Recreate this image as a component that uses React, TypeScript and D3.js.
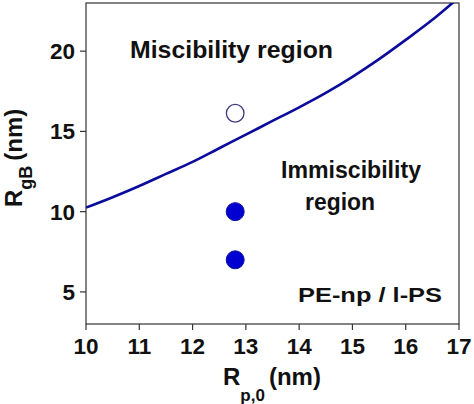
import React from "react";
import * as d3 from "d3";

// Phase boundary R_gB versus R_p,0
const boundaryRp = [10, 10.5, 11, 11.5, 12, 12.5, 13, 13.5, 14, 14.5, 15, 15.5, 16, 16.5, 17];
const boundaryRg = [10.25, 10.9, 11.6, 12.35, 13.1, 13.95, 14.8, 15.65, 16.5, 17.4, 18.4, 19.5, 20.7, 21.95, 23.35];

// Measured systems
const miscibleRp = [12.8];
const miscibleRg = [16.13];
const immiscibleRp = [12.8, 12.8];
const immiscibleRg = [10.0, 7.0];

const xTicks = [10, 11, 12, 13, 14, 15, 16, 17];
const yTicks = [5, 10, 15, 20];

const W = 474;
const H = 404;
const left = 86;
const right = 459;
const top = 3;
const bottom = 324;

const FONT = "'Liberation Sans', Arial, Helvetica, sans-serif";

export default function App() {
  const x = d3.scaleLinear().domain([10, 17]).range([left, right]);
  const y = d3.scaleLinear().domain([3, 23]).range([bottom, top]);

  const line = d3
    .line<number>()
    .x((_, i) => x(boundaryRp[i]))
    .y((d) => y(d))
    .curve(d3.curveMonotoneX);

  const boundaryPath = line(boundaryRg) || "";

  return (
    <svg
      width={W}
      height={H}
      style={{ position: "absolute", left: 0, top: 0, background: "#fff" }}
      fontFamily={FONT}
      fontWeight="bold"
    >
      <defs>
        <clipPath id="plot-area">
          <rect x={left} y={top} width={right - left} height={bottom - top} />
        </clipPath>
      </defs>
      <rect x={0} y={0} width={W} height={H} fill="#fff" />

      {/* frame */}
      <rect
        x={left}
        y={top}
        width={right - left}
        height={bottom - top}
        fill="none"
        stroke="#333"
        strokeWidth={1.2}
      />

      {/* x axis ticks and labels */}
      {xTicks.map((t) => (
        <g key={"x" + t}>
          <line x1={x(t)} x2={x(t)} y1={bottom} y2={bottom + 6} stroke="#333" strokeWidth={1.2} />
          <text x={x(t)} y={353.5} textAnchor="middle" fontSize={22.5} fill="#111">
            {t}
          </text>
        </g>
      ))}

      {/* y axis ticks and labels */}
      {yTicks.map((t) => (
        <g key={"y" + t}>
          <line x1={left - 6} x2={left} y1={y(t)} y2={y(t)} stroke="#333" strokeWidth={1.2} />
          <text x={75} y={y(t) + 8} textAnchor="end" fontSize={22.5} fill="#111">
            {t}
          </text>
        </g>
      ))}

      {/* axis titles */}
      <text x={223} y={385} fontSize={24} fill="#111">
        R
        <tspan dy={16} fontSize={17}>
          p,0
        </tspan>
        <tspan dy={-16} dx={4}>
          (nm)
        </tspan>
      </text>
      <text transform="translate(22,207) rotate(-90)" fontSize={24} fill="#111">
        R
        <tspan dy={10} fontSize={18}>
          gB
        </tspan>
        <tspan dy={-10} dx={5}>
          (nm)
        </tspan>
      </text>

      {/* boundary curve */}
      <path
        d={boundaryPath}
        fill="none"
        stroke="#0c0c9c"
        strokeWidth={2.6}
        clipPath="url(#plot-area)"
      />

      {/* miscible point */}
      {miscibleRp.map((v, i) => (
        <circle
          key={"m" + i}
          cx={x(v)}
          cy={y(miscibleRg[i])}
          r={8.8}
          fill="#fff"
          stroke="#3c3c80"
          strokeWidth={1.3}
        />
      ))}

      {/* immiscible points */}
      {immiscibleRp.map((v, i) => (
        <circle
          key={"i" + i}
          cx={x(v)}
          cy={y(immiscibleRg[i])}
          r={9}
          fill="#0000d0"
          stroke="#10109a"
          strokeWidth={1}
        />
      ))}

      {/* region labels */}
      <text x={130} y={58} fontSize={24} fill="#111" textLength={203} lengthAdjust="spacingAndGlyphs">
        Miscibility region
      </text>
      <text x={281} y={178} fontSize={23} fill="#111" textLength={140} lengthAdjust="spacingAndGlyphs">
        Immiscibility
      </text>
      <text x={305} y={210} fontSize={23} fill="#111" textLength={70} lengthAdjust="spacingAndGlyphs">
        region
      </text>
      <text x={298} y={302} fontSize={21} fill="#111" textLength={144} lengthAdjust="spacingAndGlyphs">
        PE-np / l-PS
      </text>
    </svg>
  );
}
